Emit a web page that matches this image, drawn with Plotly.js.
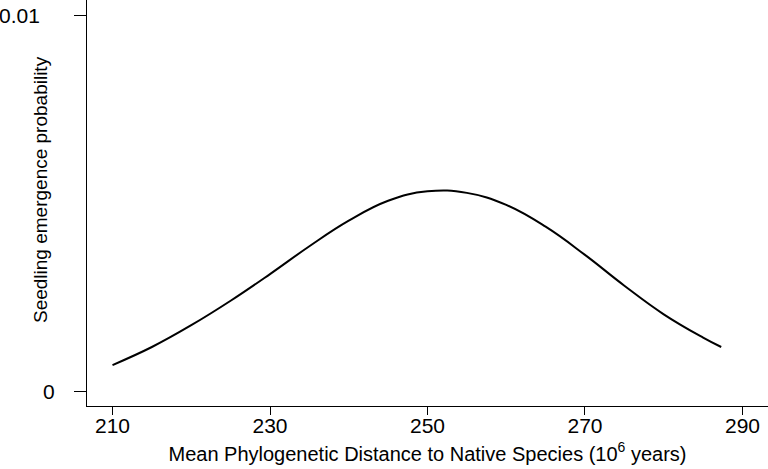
<!DOCTYPE html>
<html>
<head>
<meta charset="utf-8">
<script src="https://cdn.plot.ly/plotly-3.0.1.min.js"></script>
<style>
  html, body { margin: 0; padding: 0; background: #fff; }
  #chart { width: 768px; height: 469px; }
</style>
</head>
<body>
<div id="chart"></div>
<script>
// Predicted seedling emergence probability vs. mean phylogenetic distance
const distance = [210, 215, 220, 225, 230, 235, 240, 245, 250, 255, 260, 265, 270, 275, 280, 285, 287.3];
const emergence = [0.00069, 0.00117, 0.00175, 0.00240, 0.00311, 0.00385, 0.00453, 0.00506, 0.00531, 0.00527, 0.00495, 0.00437, 0.00362, 0.00280, 0.00204, 0.00142, 0.00117];

const xTicks = [210, 230, 250, 270, 290];
const yTicks = [0, 0.01];
const yTickText = ["0", "0.01"];
// horizontal offset (paper units) of each y tick label's right edge
const yTickLabelX = [-0.0441, -0.0661];

const font = "Liberation Sans, Arial, Helvetica, sans-serif";

const trace = {
  x: distance,
  y: emergence,
  type: "scatter",
  mode: "lines",
  line: { color: "#000", width: 2, shape: "spline", smoothing: 1.2 },
  hoverinfo: "skip"
};

const annotations = yTicks.map((v, i) => ({
  xref: "paper", yref: "y",
  x: yTickLabelX[i], y: v,
  xanchor: "right", yanchor: "middle",
  text: yTickText[i],
  showarrow: false,
  font: { family: font, size: 21, color: "#000" }
}));

annotations.push({
  xref: "paper", yref: "paper",
  x: -0.069, y: 0.532,
  xanchor: "center", yanchor: "middle",
  textangle: -90,
  text: "Seedling emergence probability",
  showarrow: false,
  font: { family: font, size: 19, color: "#000" }
});

const layout = {
  width: 768,
  height: 469,
  margin: { l: 87, r: 0, t: 0, b: 63, pad: 0 },
  paper_bgcolor: "#fff",
  plot_bgcolor: "#fff",
  showlegend: false,
  font: { family: font, color: "#000", size: 19 },
  annotations: annotations,
  xaxis: {
    range: [206.76, 293.24],
    tickvals: xTicks,
    ticks: "outside",
    ticklen: 8,
    tickwidth: 1,
    tickcolor: "#000",
    ticklabelstandoff: -7,
    showline: true,
    linecolor: "#000",
    linewidth: 1,
    showgrid: false,
    zeroline: false,
    tickfont: { family: font, size: 21 },
    title: {
      text: "Mean Phylogenetic Distance to Native Species (10<sup>6</sup> years)",
      font: { family: font, size: 20 },
      standoff: 10
    }
  },
  yaxis: {
    range: [-0.000399, 0.0104],
    tickvals: yTicks,
    showticklabels: false,
    ticks: "outside",
    ticklen: 12,
    tickwidth: 1,
    tickcolor: "#000",
    showline: true,
    linecolor: "#000",
    linewidth: 1,
    showgrid: false,
    zeroline: false
  }
};

Plotly.newPlot("chart", [trace], layout, { staticPlot: true, displayModeBar: false });
</script>
</body>
</html>
